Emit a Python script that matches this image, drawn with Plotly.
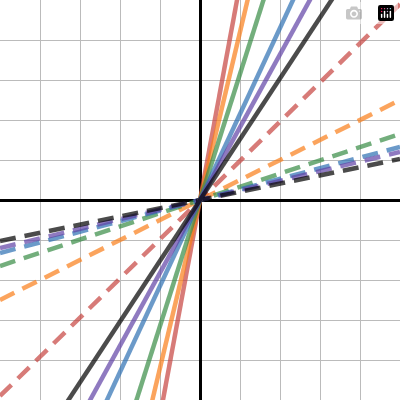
import plotly.graph_objects as go

colors = ["#c74440", "#fa7e19", "#388c46", "#2d70b3", "#6042a6", "#000000"]
solid_slopes = [5.4, 4.2, 3.15, 2.15, 1.82, 1.52]
dashed_slopes = [0.98, 0.5, 0.33, 0.265, 0.24, 0.205]
x_ends = [-5, 5]

fig = go.Figure()
for slope, color in zip(dashed_slopes, colors):
    fig.add_trace(go.Scatter(x=x_ends, y=[slope * x for x in x_ends], mode="lines",
                             line=dict(color=color, width=4.5, dash="16px,9px"), opacity=0.7))
for slope, color in zip(solid_slopes, colors):
    fig.add_trace(go.Scatter(x=x_ends, y=[slope * x for x in x_ends], mode="lines",
                             line=dict(color=color, width=4.5), opacity=0.7))

axis = dict(range=[-5, 5], dtick=1, showticklabels=False, showgrid=True,
            gridcolor="#bbbbbb", gridwidth=1, zeroline=True, zerolinecolor="black",
            zerolinewidth=3, fixedrange=True)
fig.update_layout(width=400, height=400, margin=dict(l=0, r=0, t=0, b=0),
                  plot_bgcolor="white", paper_bgcolor="white", showlegend=False,
                  xaxis=axis, yaxis=axis)
fig.write_html("out.html", post_script="document.body.style.margin='0';")
